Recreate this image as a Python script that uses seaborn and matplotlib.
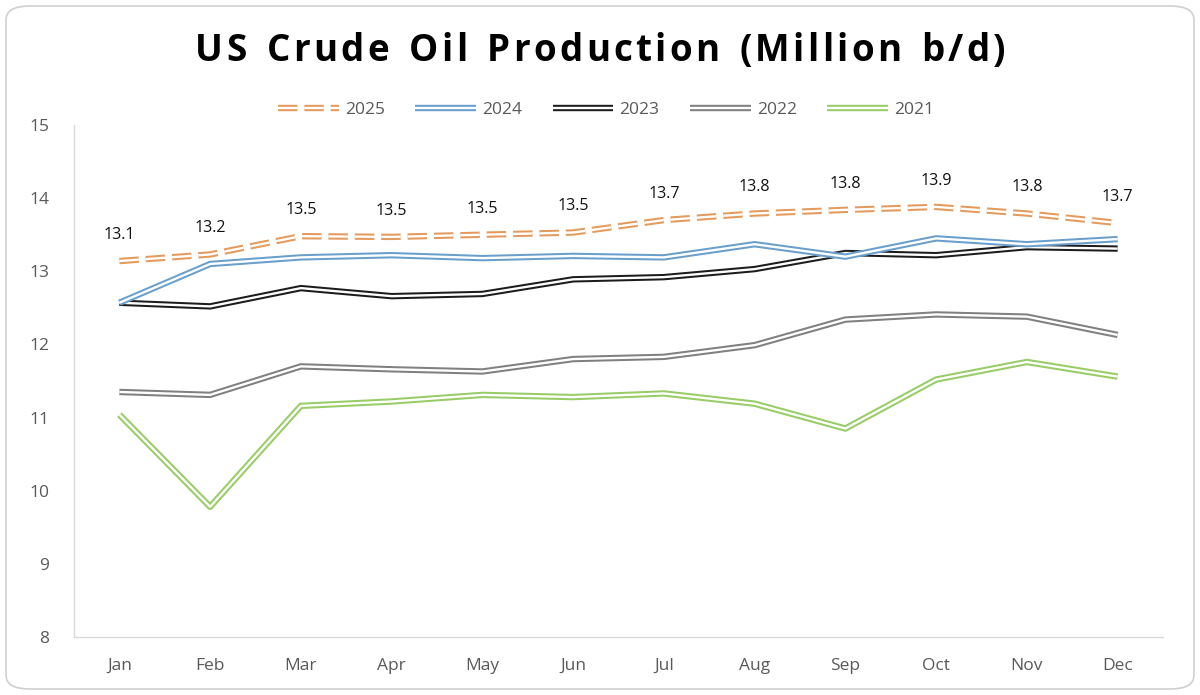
import pandas as pd
import seaborn as sns
import matplotlib.pyplot as plt
import matplotlib.patheffects as pe
from matplotlib.lines import Line2D
from matplotlib.patches import FancyBboxPatch

MONTHS = ["Jan", "Feb", "Mar", "Apr", "May", "Jun",
          "Jul", "Aug", "Sep", "Oct", "Nov", "Dec"]

Y2025 = [13.14, 13.23, 13.48, 13.47, 13.50, 13.53, 13.70, 13.79, 13.84, 13.88, 13.79, 13.66]
Y2024 = [12.57, 13.10, 13.19, 13.22, 13.18, 13.21, 13.19, 13.37, 13.20, 13.45, 13.37, 13.44]
Y2023 = [12.57, 12.52, 12.77, 12.66, 12.69, 12.89, 12.92, 13.03, 13.25, 13.22, 13.33, 13.31]
Y2022 = [11.35, 11.31, 11.70, 11.66, 11.63, 11.80, 11.83, 11.99, 12.34, 12.41, 12.38, 12.13]
Y2021 = [11.04, 9.78, 11.16, 11.22, 11.31, 11.28, 11.33, 11.19, 10.85, 11.52, 11.76, 11.56]

YEARS = ["2025", "2024", "2023", "2022", "2021"]
COLORS = {"2025": "#E39A5C", "2024": "#6A9FCB", "2023": "#1C1C1C",
          "2022": "#808080", "2021": "#98CC66"}

TITLE = "US Crude Oil Production (Million b/d)"
DASH = (0, (14, 5))
OUTER_LW = 4.6
INNER_LW = 1.7


def double_line():
    # Excel-style "double" compound line: coloured stroke with a white core
    return [pe.Normal(), pe.Stroke(linewidth=INNER_LW, foreground="white")]


def build_df():
    rows = []
    for year, vals in zip(YEARS, [Y2025, Y2024, Y2023, Y2022, Y2021]):
        for i, (m, v) in enumerate(zip(MONTHS, vals)):
            rows.append({"year": year, "pos": i, "month": m, "value": v})
    return pd.DataFrame(rows)


def spaced_title(fig, text, y, width_px, fontsize):
    renderer = fig.canvas.get_renderer()
    widths = []
    for ch in text:
        t = fig.text(0, y, ch if ch != " " else "n", fontsize=fontsize,
                     fontweight="bold", va="center", ha="left")
        w = t.get_window_extent(renderer).width
        if ch == " ":
            w *= 0.55
        t.remove()
        widths.append(w)
    gap = (width_px - sum(widths)) / (len(text) - 1)
    x = (fig.bbox.width - width_px) / 2
    for ch, w in zip(text, widths):
        if ch != " ":
            fig.text(x / fig.bbox.width, y, ch, fontsize=fontsize, fontweight="bold",
                     va="center", ha="left", color="black")
        x += w + gap


def main():
    sns.set_theme(style="white")
    plt.rcParams["font.family"] = ["Open Sans", "DejaVu Sans"]
    plt.rcParams["lines.scale_dashes"] = False

    df = build_df()
    fig = plt.figure(figsize=(12, 6.95), dpi=100)
    ax = fig.add_axes([74 / 1200, 1 - 637 / 695, (1163 - 74) / 1200, (637 - 125) / 695])

    for year in reversed(YEARS):
        sub = df[df["year"] == year]
        ls = DASH if year == "2025" else "-"
        sns.lineplot(data=sub, x="pos", y="value", ax=ax, color=COLORS[year],
                     linewidth=OUTER_LW, linestyle=ls, solid_capstyle="butt",
                     dash_capstyle="butt", legend=False, zorder=3,
                     path_effects=double_line())

    handles = []
    for year in YEARS:
        ls = DASH if year == "2025" else "-"
        handles.append(Line2D([], [], color=COLORS[year], lw=OUTER_LW, ls=ls,
                              dash_capstyle="butt", solid_capstyle="butt",
                              path_effects=double_line()))

    for i, v in enumerate(Y2025):
        ax.annotate(f"{v:.1f}", (i, v), xytext=(0, 13), textcoords="offset points",
                    ha="center", va="bottom", fontsize=11.5, color="#111111")

    ax.set_xlim(-0.5, 11.5)
    ax.set_ylim(8, 15)
    ax.set_xticks(range(len(MONTHS)))
    ax.set_xticklabels(MONTHS)
    ax.set_yticks(range(8, 16))
    ax.set_xlabel("")
    ax.set_ylabel("")
    ax.tick_params(axis="both", labelsize=12.5, colors="#595959", length=0)
    ax.tick_params(axis="x", pad=15)
    ax.tick_params(axis="y", pad=18)
    for side in ["top", "right"]:
        ax.spines[side].set_visible(False)
    for side in ["left", "bottom"]:
        ax.spines[side].set_color("#D9D9D9")
        ax.spines[side].set_linewidth(1)

    leg = fig.legend(handles, YEARS, loc="center",
                     bbox_to_anchor=(606 / 1200, 1 - 110 / 695), ncol=5,
                     frameon=False, fontsize=12.5, handlelength=3.5,
                     handletextpad=0.35, columnspacing=1.75)
    for t in leg.get_texts():
        t.set_color("#595959")

    spaced_title(fig, TITLE, 1 - 51 / 695, 810, 26.5)

    border = FancyBboxPatch((6 / 1200, 6 / 695), 1188 / 1200, 683 / 695,
                            boxstyle="round,pad=0,rounding_size=0.02",
                            transform=fig.transFigure, fill=False,
                            edgecolor="#D0D0D0", linewidth=1.2)
    fig.patches.append(border)

    fig.savefig("out.png", dpi=100)
    plt.close(fig)


if __name__ == "__main__":
    main()
